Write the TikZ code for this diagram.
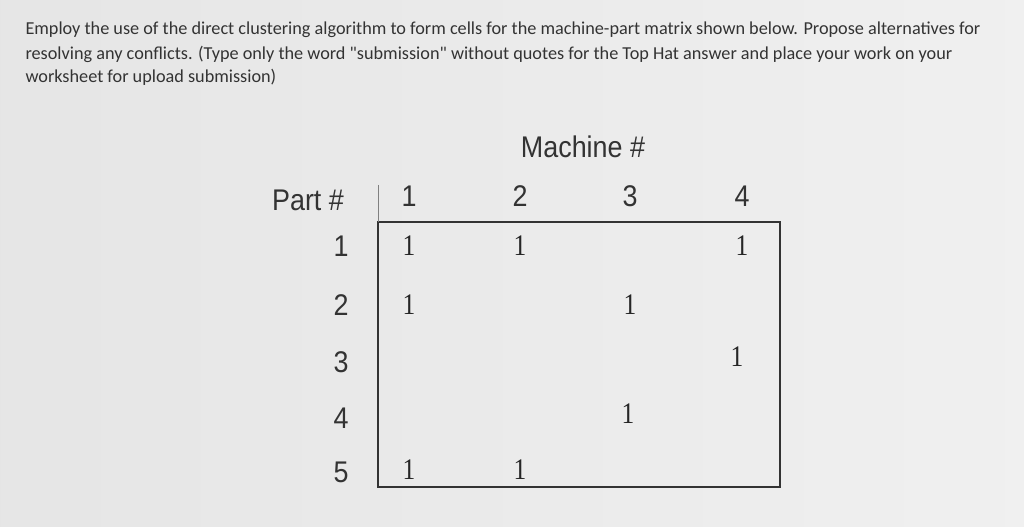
\documentclass[tikz,border=0pt]{standalone}
\usepackage{fontspec}
\setmainfont{Liberation Sans}
\newfontfamily\para{Carlito}
\newfontfamily\tms{Liberation Serif}
\begin{document}
\begin{tikzpicture}[x=1bp,y=-1bp,
  hd/.style={font=\fontsize{30}{30}\selectfont,text=black!80,xscale=0.9},
  ent/.style={font=\tms\fontsize{30}{30}\selectfont,text=black!85,xscale=0.85},
  pl/.style={font=\para\fontsize{18.3}{20}\selectfont,text=black!80,anchor=west}]
\fill[left color=black!10,right color=black!6] (0,0) rectangle (1024,527);
\useasboundingbox (0,0) rectangle (1024,527);
\node[pl] (l1) at (22,30) {Employ the use of the direct clustering algorithm to form cells for the machine-part matrix shown below. Propose alternatives for};
\node[pl] (l2) at (22,54) {resolving any conflicts. (Type only the word "submission" without quotes for the Top Hat answer and place your work on your};
\node[pl] (l3) at (22,77) {worksheet for upload submission)};
\node[hd,font=\fontsize{30}{30}\selectfont] (mh) at (583,147) {Machine \#};
\node[hd] (ph) at (308,200) {Part \#};
\foreach \c/\x in {1/409,2/520,3/630,4/742}{\node[hd] (c\c) at (\x,196) {\c};}
\foreach \r/\y in {1/246,2/305,3/362,4/418,5/472}{\node[hd] (r\r) at (341,\y) {\r};}
\draw[black!80,line width=1.2pt] (378,222) rectangle (780,487);
\draw[black!50,line width=0.8pt] (378,185) -- (378,222);
\node[ent] (e11) at (409,246) {1};
\node[ent] (e12) at (520,246) {1};
\node[ent] (e14) at (742,246) {1};
\node[ent] (e21) at (409,305) {1};
\node[ent] (e23) at (630,305) {1};
\node[ent] (e34) at (737,357) {1};
\node[ent] (e43) at (628,414) {1};
\node[ent] (e51) at (409,470) {1};
\node[ent] (e52) at (520,470) {1};
\end{tikzpicture}
\end{document}
